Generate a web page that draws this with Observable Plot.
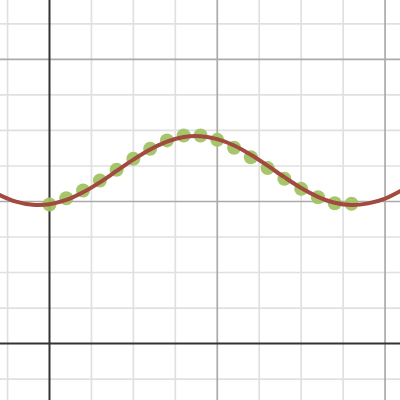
<!DOCTYPE html>
<html>
<head>
<meta charset="utf-8">
<script src="https://cdn.jsdelivr.net/npm/d3@7"></script>
<script src="https://cdn.jsdelivr.net/npm/@observablehq/plot@0.6"></script>
<style>
  html, body { margin: 0; padding: 0; background: #fff; }
  svg { display: block; }
</style>
</head>
<body>
<div id="chart"></div>
<script>
// Sample points (green)
const pointX = [0, 0.1, 0.2, 0.3, 0.4, 0.5, 0.6, 0.7, 0.8, 0.9, 1.0, 1.1, 1.2, 1.3, 1.4, 1.5, 1.6, 1.7, 1.8];
const pointY = [0.979, 1.023, 1.077, 1.148, 1.223, 1.301, 1.371, 1.430, 1.465, 1.465, 1.434, 1.378, 1.312, 1.235, 1.160, 1.089, 1.030, 0.988, 0.984];

// Fitted curve (red)
const curveX = [-0.3, -0.2, -0.1, 0.0, 0.1, 0.2, 0.3, 0.4, 0.5, 0.6, 0.7, 0.8, 0.9, 1.0, 1.1, 1.2, 1.3, 1.4, 1.5, 1.6, 1.7, 1.8, 1.9, 2.0, 2.1];
const curveY = [1.047, 0.999, 0.977, 0.981, 1.011, 1.065, 1.135, 1.215, 1.295, 1.366, 1.421, 1.454, 1.460, 1.439, 1.394, 1.329, 1.252, 1.171, 1.095, 1.033, 0.991, 0.975, 0.987, 1.021, 1.079];

// Grid lines
const minorX = [-0.25, 0.25, 0.5, 0.75, 1.25, 1.5, 1.75];
const majorX = [1, 2];
const minorY = [-0.25, 0.25, 0.5, 0.75, 1.25, 1.5, 1.75, 2.25];
const majorY = [1, 2];
const axisX = [0];
const axisY = [0];

const points = pointX.map((x, i) => ({x, y: pointY[i]}));
const curve = curveX.map((x, i) => ({x, y: curveY[i]}));

const chart = Plot.plot({
  width: 400,
  height: 400,
  margin: 0,
  x: {domain: [-0.292, 2.092], axis: null},
  y: {domain: [-0.401, 2.415], axis: null},
  marks: [
    Plot.ruleX(minorX, {stroke: "#e0e0e0", strokeWidth: 1.7}),
    Plot.ruleY(minorY, {stroke: "#e0e0e0", strokeWidth: 1.7}),
    Plot.ruleX(majorX, {stroke: "#aaaaaa", strokeWidth: 1.7}),
    Plot.ruleY(majorY, {stroke: "#aaaaaa", strokeWidth: 1.7}),
    Plot.ruleX(axisX, {stroke: "#333333", strokeWidth: 2}),
    Plot.ruleY(axisY, {stroke: "#333333", strokeWidth: 2}),
    Plot.dot(points, {x: "x", y: "y", r: 7, fill: "#a0c363", fillOpacity: 0.95, stroke: "none"}),
    Plot.line(curve, {x: "x", y: "y", curve: "catmull-rom", stroke: "#a24a40", strokeWidth: 4})
  ]
});
document.getElementById("chart").appendChild(chart);
</script>
</body>
</html>
